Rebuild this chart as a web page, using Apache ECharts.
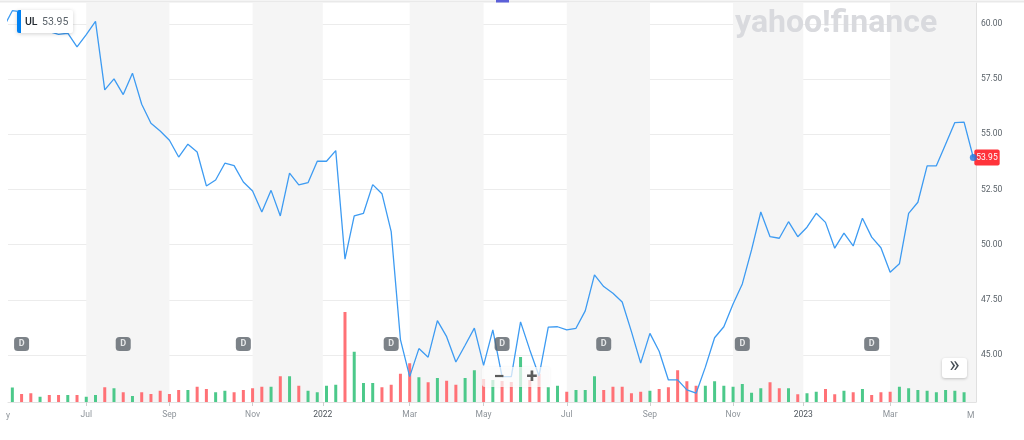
<!DOCTYPE html>
<html><head><meta charset="utf-8">
<script src="https://cdn.jsdelivr.net/npm/echarts@6/dist/echarts.min.js"></script>
<style>html,body{margin:0;padding:0;background:#fff}#c{width:1024px;height:440px}</style>
</head><body><div id="c"></div>
<script>
// Weekly UL closing prices, week 0 = 26 Apr 2021 ... week 105 = 1 May 2023
const price = [59.80,60.60,60.55,60.20,59.85,59.65,59.53,59.58,58.96,59.52,
 60.12,57.01,57.51,56.80,57.77,56.36,55.50,55.15,54.73,53.97,
 54.55,54.20,52.66,52.93,53.69,53.58,52.84,52.43,51.48,52.46,
 51.30,53.24,52.71,52.81,53.78,53.78,54.26,49.34,51.30,51.42,
 52.72,52.31,50.59,45.70,44.02,45.29,44.90,46.56,45.83,44.68,
 45.44,46.22,44.53,46.14,44.02,44.02,46.50,45.23,44.05,46.26,
 46.28,46.14,46.21,47.00,48.63,48.10,47.80,47.40,46.06,44.63,
 45.98,45.17,43.87,43.87,43.42,43.27,44.45,45.78,46.28,47.31,
 48.22,49.76,51.48,50.36,50.29,51.04,50.36,50.79,51.42,51.01,
 49.84,50.52,49.94,51.20,50.34,49.86,48.75,49.13,51.42,51.92,
 53.57,53.57,54.55,55.53,55.55,53.95];
// Weekly volume (millions)
const volume = [null,
 5.8,3.2,3.5,2.1,2.8,2.8,2.8,2.8,2.1,2.8,
 5.9,5.5,3.9,2.4,3.9,3.2,4.5,3.2,4.8,4.8,
 6.1,5.2,3.9,4.5,3.9,4.8,5.5,6.1,6.1,10.3,
 10.3,6.5,4.5,3.9,6.5,6.9,36,20.1,7.6,7.6,
 5.9,6.9,11.3,15.5,9.9,7.9,9.6,8.5,6.9,9.6,
 12.7,9.2,8.8,8.4,8.0,18,8.8,11.2,5.9,6.5,
 4.1,4.8,4.8,10.3,4.8,6.1,6.1,3.5,4.1,4.5,
 5.2,5.9,12.7,8.3,6.5,6.5,8.3,6.5,6.1,7.2,
 3.7,5.5,7.9,5.5,5.5,3.1,3.5,4.1,5.2,3.1,
 4.5,3.9,5.2,2.8,3.9,4.1,6.1,5.5,4.8,4.5,
 3.9,4.8,4.5,3.9, null];
// G = up week, R = down week
const volDir = ('-' + 'GRRGRRGRGG' + 'RGRGRRRRRG' + 'RRGGRRRRGR' + 'GRGGGGRGGG' + 'RRRRGRGRRG' +
 'GRGRRGRRGG' + 'RGGGRRRRRG' + 'RRRRRGGGGG' + 'GGRRGRGGRR' + 'GRGRRRGGGG' + 'GGGG' + '-').split('');
const dividendWeeks = [2,13,26,42,54,65,80,94];
const xTickPos = [9,18,27,34.6,44,52,61,70,79,86.6,96];
const xTickLabels = ['Jul','Sep','Nov','2022','Mar','May','Jul','Sep','Nov','2023','Mar'];
const yTicks = [45,47.5,50,52.5,55,57.5,60];
const bands = [[9,18],[27,34.6],[44,52],[61,70],[79,86.6],[96,105.29]];
const symbol = 'UL';
const lastPrice = price[price.length-1];

const X_MIN = 0.53, X_MAX = 105.29;
const Y_MIN = 42.87, Y_MAX = 60.95;
const VOL_MAX = 159.6;
const DIV_Y = 58;
const GREEN = '#4cc98a', RED = '#ff7176';
const F = 'Roboto';

const chart = echarts.init(document.getElementById('c'));
const volData = [];
volume.forEach((v,i)=>{ if(v!=null) volData.push({value:[i,v], itemStyle:{color: volDir[i]==='G'?GREEN:RED}}); });

chart.setOption({
  animation:false,
  grid:{left:8, right:48, top:3, bottom:38, containLabel:false},
  xAxis:{type:'value', min:X_MIN, max:X_MAX, z:1,
    axisLine:{show:true, lineStyle:{color:'#e2e2e2', width:1}},
    axisTick:{show:true, length:4, lineStyle:{color:'#cfcfcf'}, customValues:xTickPos},
    splitLine:{show:false},
    axisLabel:{customValues:xTickPos, margin:8, fontSize:8.5, fontFamily:F, color:'#8e949a',
      formatter:function(v){ const k=xTickPos.findIndex(p=>Math.abs(p-v)<1e-6); const t=k<0?'':xTickLabels[k]; return /^\d{4}$/.test(t)?'{yr|'+t+'}':t; },
      rich:{yr:{fontSize:8.5, fontFamily:F, color:'#4e555c'}}}
  },
  yAxis:[
    {type:'value', position:'right', min:Y_MIN, max:Y_MAX, z:1,
      axisLine:{show:true, lineStyle:{color:'#e0e0e0'}},
      axisTick:{show:false, customValues:yTicks},
      splitLine:{show:true, lineStyle:{color:'#ececec', width:1}},
      axisLabel:{customValues:yTicks, margin:5, fontSize:8.5, fontFamily:F, color:'#5b636a', formatter:v=>v.toFixed(2)}
    },
    {type:'value', min:0, max:VOL_MAX, show:false},
    {type:'value', min:0, max:399, show:false}
  ],
  series:[
    {type:'line', data:[], z:0, silent:true,
      markArea:{silent:true, itemStyle:{color:'#f5f5f5'}, data:bands.map(b=>[{xAxis:b[0]},{xAxis:b[1]}])}},
    {type:'bar', yAxisIndex:1, data:volData, barWidth:3, z:2, silent:true},
    {type:'line', data:price.map((p,i)=>[i,p]), showSymbol:false, z:3, clip:true, silent:true,
      lineStyle:{color:'#3d9bf2', width:1.3},
      endLabel:{show:true, distance:1, formatter:()=>lastPrice.toFixed(2), color:'#fff', backgroundColor:'#ff333a',
        borderRadius:2, padding:[4,2,3,2], fontSize:8.5, fontFamily:F}},
    {type:'scatter', data:[[price.length-1, lastPrice]], symbol:'circle', symbolSize:7, z:10, silent:true,
      itemStyle:{color:'#1f78e0'}},
    {type:'scatter', yAxisIndex:2, data:dividendWeeks.map(w=>[w, DIV_Y]), symbol:'roundRect', symbolSize:[15,14], z:5, silent:true,
      itemStyle:{color:'#5b636a'},
      label:{show:true, position:'inside', formatter:'D', color:'#fff', fontSize:9, fontWeight:'bold', fontFamily:F}}
  ],
  graphic:[
    {type:'rect', shape:{x:0,y:0.5,width:1024,height:2}, style:{fill:'#e9e9e9'}, z:50},
    {type:'rect', shape:{x:496,y:0,width:13,height:2.5}, style:{fill:'#5b5fd8'}, z:51},
    {type:'text', x:735, y:24, z:20, style:{text:'yahoo!finance', fontSize:32, fontWeight:'bold', fontFamily:F, fill:'#d9dade', verticalAlign:'middle'}},
    {type:'rect', shape:{x:17,y:10,width:56,height:23,r:2}, z:60, style:{fill:'#fff', shadowBlur:4, shadowColor:'rgba(0,0,0,0.18)', shadowOffsetY:1}},
    {type:'rect', shape:{x:17,y:10,width:4,height:23,r:[2,0,0,2]}, z:61, style:{fill:'#0081f2'}},
    {type:'text', x:25, y:22, z:62, style:{text:symbol, fontSize:10.5, fontWeight:500, fontFamily:F, fill:'#232a31', verticalAlign:'middle'}},
    {type:'text', x:42, y:22, z:62, style:{text:lastPrice.toFixed(2), fontSize:10.5, fontFamily:F, fill:'#5b636a', verticalAlign:'middle'}},
    {type:'rect', shape:{x:482,y:367,width:68,height:20,r:3}, z:60, style:{fill:'rgba(255,255,255,0.72)', shadowBlur:3, shadowColor:'rgba(0,0,0,0.08)'}},
    {type:'text', x:499, y:377.5, z:61, style:{text:'\u2212', fontSize:20, fontWeight:'bold', fontFamily:F, fill:'#5b5b5b', align:'center', verticalAlign:'middle'}},
    {type:'text', x:532, y:377.5, z:61, style:{text:'+', fontSize:20, fontWeight:'bold', fontFamily:F, fill:'#5b5b5b', align:'center', verticalAlign:'middle'}},
    {type:'rect', shape:{x:942,y:358,width:25,height:20,r:3}, z:60, style:{fill:'#fff', shadowBlur:3, shadowColor:'rgba(0,0,0,0.22)', shadowOffsetY:1}},
    {type:'text', x:954.5, y:366.5, z:61, style:{text:'\u00bb', fontSize:22, fontFamily:F, fill:'#464e56', align:'center', verticalAlign:'middle'}},
    {type:'text', x:10, y:416, z:61, style:{text:'y', fontSize:8.5, fontFamily:F, fill:'#8e949a', align:'right', verticalAlign:'middle'}},
    {type:'text', x:967, y:416, z:61, style:{text:'M', fontSize:8.5, fontFamily:F, fill:'#8e949a', align:'left', verticalAlign:'middle'}}
  ]
});
</script></body></html>
